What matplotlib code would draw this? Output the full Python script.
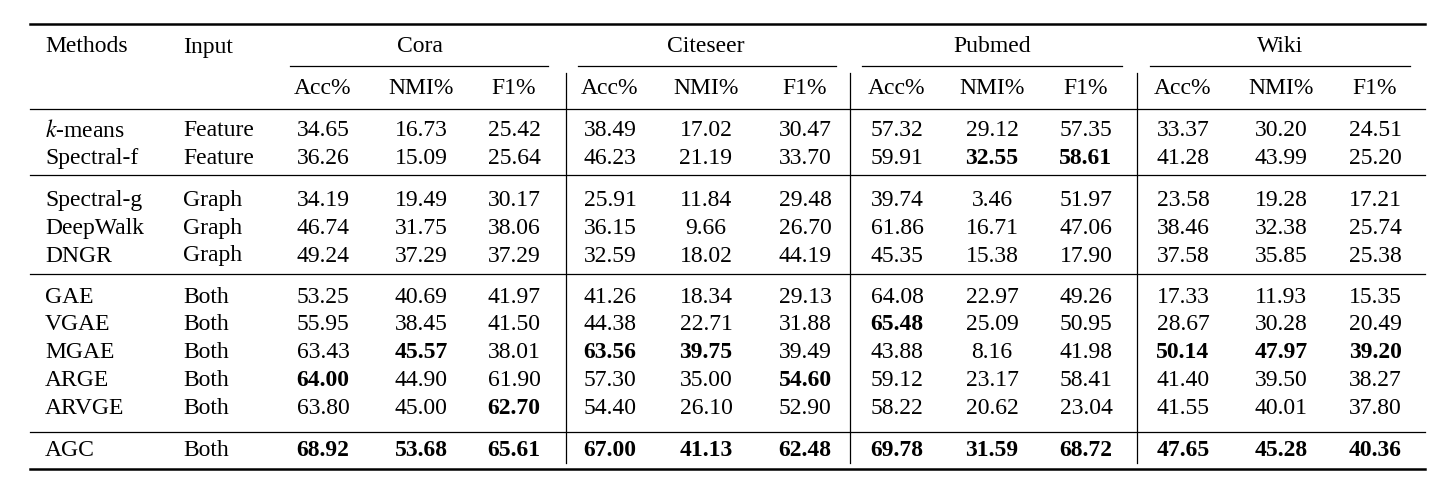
import matplotlib.pyplot as plt

methods = ["$k$-means", "Spectral-f", "Spectral-g", "DeepWalk", "DNGR",
           "GAE", "VGAE", "MGAE", "ARGE", "ARVGE", "AGC"]
inputs = ["Feature", "Feature", "Graph", "Graph", "Graph",
          "Both", "Both", "Both", "Both", "Both", "Both"]
datasets = ["Cora", "Citeseer", "Pubmed", "Wiki"]
metrics = ["Acc%", "NMI%", "F1%"]
values = [
    ["34.65", "16.73", "25.42", "38.49", "17.02", "30.47", "57.32", "29.12", "57.35", "33.37", "30.20", "24.51"],
    ["36.26", "15.09", "25.64", "46.23", "21.19", "33.70", "59.91", "32.55", "58.61", "41.28", "43.99", "25.20"],
    ["34.19", "19.49", "30.17", "25.91", "11.84", "29.48", "39.74", "3.46", "51.97", "23.58", "19.28", "17.21"],
    ["46.74", "31.75", "38.06", "36.15", "9.66", "26.70", "61.86", "16.71", "47.06", "38.46", "32.38", "25.74"],
    ["49.24", "37.29", "37.29", "32.59", "18.02", "44.19", "45.35", "15.38", "17.90", "37.58", "35.85", "25.38"],
    ["53.25", "40.69", "41.97", "41.26", "18.34", "29.13", "64.08", "22.97", "49.26", "17.33", "11.93", "15.35"],
    ["55.95", "38.45", "41.50", "44.38", "22.71", "31.88", "65.48", "25.09", "50.95", "28.67", "30.28", "20.49"],
    ["63.43", "45.57", "38.01", "63.56", "39.75", "39.49", "43.88", "8.16", "41.98", "50.14", "47.97", "39.20"],
    ["64.00", "44.90", "61.90", "57.30", "35.00", "54.60", "59.12", "23.17", "58.41", "41.40", "39.50", "38.27"],
    ["63.80", "45.00", "62.70", "54.40", "26.10", "52.90", "58.22", "20.62", "23.04", "41.55", "40.01", "37.80"],
    ["68.92", "53.68", "65.61", "67.00", "41.13", "62.48", "69.78", "31.59", "68.72", "47.65", "45.28", "40.36"],
]
bold = {(1, 7), (1, 8), (6, 6), (7, 1), (7, 3), (7, 4), (7, 9), (7, 10), (7, 11),
        (8, 0), (8, 5), (9, 2)} | {(10, j) for j in range(12)}

plt.rcParams['font.family'] = ['Liberation Serif']
plt.rcParams['mathtext.fontset'] = 'stix'

W, H = 1440, 485
fig = plt.figure(figsize=(W / 100, H / 100), dpi=100)
ax = fig.add_axes([0, 0, 1, 1])
ax.set_xlim(0, W)
ax.set_ylim(H, 0)
ax.axis("off")
fs = 17
dy = 2  # nudge text down a little

row_y = [129, 157, 199, 227, 254, 296, 323, 351, 379, 407, 449]
col_x = [323, 421, 514, 610, 706, 805, 897, 992, 1086, 1183, 1281, 1375]
group_x = [420, 706, 992, 1280]
spans = [(290, 548), (578, 836), (862, 1122), (1150, 1410)]
vbars = [566, 850, 1137]

ax.text(45, 45 + dy, "Methods", fontsize=fs, va="center")
ax.text(183, 45 + dy, "Input", fontsize=fs, va="center")
for g, x in zip(datasets, group_x):
    ax.text(x, 45 + dy, g, fontsize=fs, va="center", ha="center")
for a, b in spans:
    ax.plot([a, b], [67, 67], color="black", lw=0.9)
for i, x in enumerate(col_x):
    ax.text(x, 87 + dy, metrics[i % 3], fontsize=fs, va="center", ha="center")

for r, y in enumerate(row_y):
    ax.text(45, y + dy, methods[r], fontsize=fs, va="center")
    ax.text(183, y + dy, inputs[r], fontsize=fs, va="center")
    for c, x in enumerate(col_x):
        ax.text(x, y + dy, values[r][c], fontsize=fs, va="center", ha="center",
                fontweight="bold" if (r, c) in bold else "normal")

ax.plot([30, 1425], [25, 25], color="black", lw=1.8)
for y in [110, 176, 275, 433]:
    ax.plot([30, 1425], [y, y], color="black", lw=0.9)
ax.plot([30, 1425], [470, 470], color="black", lw=1.8)
for x in vbars:
    ax.plot([x, x], [74, 464], color="black", lw=0.9)

fig.savefig("out.png", dpi=100, facecolor="white")
